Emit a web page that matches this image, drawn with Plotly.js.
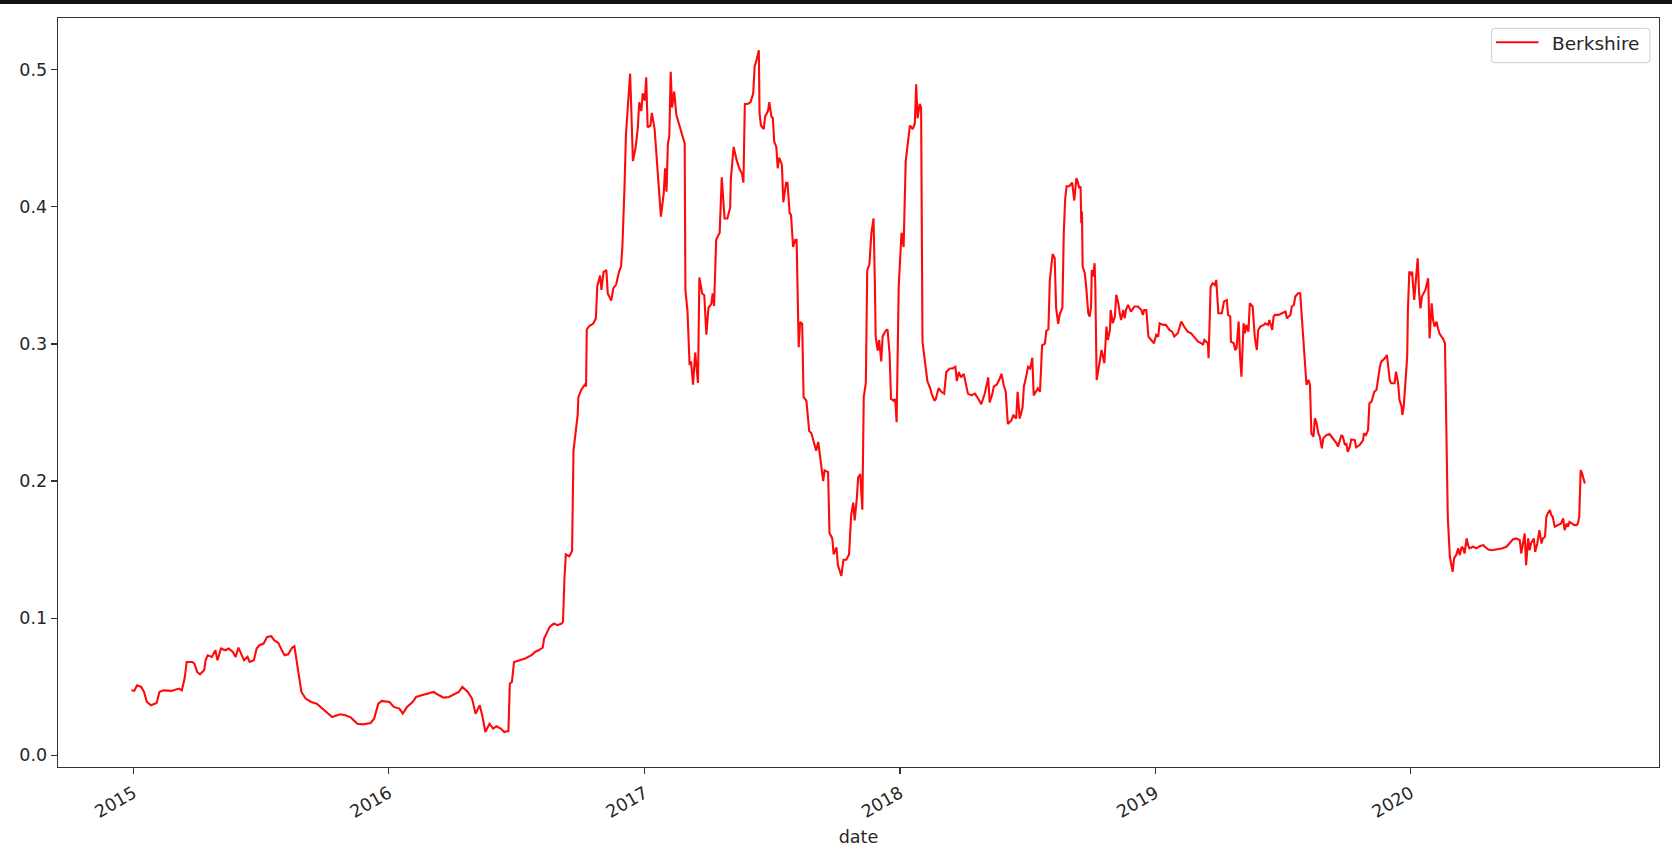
<!DOCTYPE html>
<html>
<head>
<meta charset="utf-8">
<script src="https://cdn.plot.ly/plotly-3.0.1.min.js"></script>
<style>
  html, body { margin: 0; padding: 0; background: #ffffff; }
  #topbar { position: absolute; left: 0; top: 0; width: 1672px; height: 4px; background: #111111; z-index: 10; }
  #chart { position: absolute; left: 0; top: 0; width: 1672px; height: 862px; }
</style>
</head>
<body>
<div id="topbar"></div>
<div id="chart"></div>
<script>
// ---- data ----
const seriesName = "Berkshire";
const dates = [
"2014-12-29","2015-01-02","2015-01-06","2015-01-12","2015-01-16","2015-01-20","2015-01-26","2015-02-03","2015-02-07","2015-02-13",
"2015-02-24","2015-03-07","2015-03-11","2015-03-15","2015-03-18","2015-03-26","2015-03-29","2015-04-02","2015-04-06","2015-04-12",
"2015-04-14","2015-04-17","2015-04-23","2015-04-28","2015-05-01","2015-05-06","2015-05-12","2015-05-17","2015-05-23","2015-05-27",
"2015-05-31","2015-06-04","2015-06-08","2015-06-13","2015-06-16","2015-06-22","2015-06-26","2015-06-30","2015-07-06","2015-07-11",
"2015-07-17","2015-07-21","2015-07-27","2015-08-01","2015-08-05","2015-08-10","2015-08-16","2015-08-19","2015-08-24","2015-08-27",
"2015-08-29","2015-09-04","2015-09-12","2015-09-20","2015-09-28","2015-10-07","2015-10-12","2015-10-23","2015-10-31","2015-11-08",
"2015-11-17","2015-11-25","2015-12-06","2015-12-11","2015-12-17","2015-12-22","2016-01-02","2016-01-08","2016-01-16","2016-01-21",
"2016-01-27","2016-02-04","2016-02-09","2016-02-17","2016-02-26","2016-03-05","2016-03-13","2016-03-19","2016-03-27","2016-04-04",
"2016-04-10","2016-04-15","2016-04-23","2016-04-29","2016-05-04","2016-05-10","2016-05-14","2016-05-18","2016-05-24","2016-05-29",
"2016-06-03","2016-06-09","2016-06-14","2016-06-20","2016-06-22","2016-06-25","2016-06-28","2016-07-06","2016-07-14","2016-07-23",
"2016-07-28","2016-08-02","2016-08-08","2016-08-10","2016-08-16","2016-08-18","2016-08-24","2016-08-29","2016-09-04","2016-09-06",
"2016-09-08","2016-09-10","2016-09-15","2016-09-19","2016-09-21","2016-09-25","2016-09-27","2016-09-28","2016-10-02","2016-10-07",
"2016-10-09","2016-10-10","2016-10-14","2016-10-19","2016-10-23","2016-10-25","2016-10-29","2016-10-31","2016-11-03","2016-11-07",
"2016-11-09","2016-11-14","2016-11-17","2016-11-21","2016-11-25","2016-11-28","2016-11-30","2016-12-03","2016-12-05","2016-12-11",
"2016-12-15","2016-12-19","2016-12-22","2016-12-24","2016-12-27","2016-12-29","2017-01-01","2017-01-03","2017-01-05","2017-01-09",
"2017-01-11","2017-01-15","2017-01-18","2017-01-22","2017-01-24","2017-01-28","2017-01-30","2017-02-01","2017-02-03","2017-02-05",
"2017-02-07","2017-02-09","2017-02-12","2017-02-15","2017-02-19","2017-02-23","2017-02-27","2017-02-28","2017-03-03","2017-03-06",
"2017-03-08","2017-03-11","2017-03-14","2017-03-18","2017-03-20","2017-03-24","2017-03-27","2017-03-30","2017-04-02","2017-04-06",
"2017-04-08","2017-04-10","2017-04-13","2017-04-18","2017-04-21","2017-04-25","2017-04-29","2017-05-03","2017-05-04","2017-05-08",
"2017-05-12","2017-05-16","2017-05-20","2017-05-22","2017-05-24","2017-05-28","2017-06-01","2017-06-05","2017-06-07","2017-06-10",
"2017-06-13","2017-06-14","2017-06-16","2017-06-20","2017-06-22","2017-06-26","2017-06-28","2017-07-01","2017-07-03","2017-07-05",
"2017-07-08","2017-07-10","2017-07-12","2017-07-15","2017-07-16","2017-07-18","2017-07-22","2017-07-24","2017-07-27","2017-07-29",
"2017-08-01","2017-08-04","2017-08-06","2017-08-09","2017-08-11","2017-08-14","2017-08-16","2017-08-20","2017-08-24","2017-08-27",
"2017-08-31","2017-09-03","2017-09-06","2017-09-09","2017-09-13","2017-09-15","2017-09-20","2017-09-22","2017-09-26","2017-09-28",
"2017-10-02","2017-10-04","2017-10-09","2017-10-12","2017-10-16","2017-10-20","2017-10-23","2017-10-26","2017-10-28","2017-10-31",
"2017-11-02","2017-11-05","2017-11-08","2017-11-10","2017-11-13","2017-11-15","2017-11-18","2017-11-21","2017-11-24","2017-11-26",
"2017-11-27","2017-11-30","2017-12-02","2017-12-05","2017-12-07","2017-12-11","2017-12-14","2017-12-17","2017-12-19","2017-12-23",
"2017-12-25","2017-12-27","2017-12-30","2018-01-03","2018-01-06","2018-01-09","2018-01-12","2018-01-15","2018-01-19","2018-01-22",
"2018-01-24","2018-01-26","2018-01-29","2018-01-31","2018-02-02","2018-02-06","2018-02-09","2018-02-13","2018-02-15","2018-02-19",
"2018-02-21","2018-02-25","2018-03-01","2018-03-05","2018-03-08","2018-03-13","2018-03-17","2018-03-21","2018-03-23","2018-03-26",
"2018-03-29","2018-04-02","2018-04-05","2018-04-08","2018-04-13","2018-04-18","2018-04-23","2018-04-27","2018-05-02","2018-05-07",
"2018-05-09","2018-05-13","2018-05-15","2018-05-19","2018-05-23","2018-05-26","2018-05-29","2018-06-01","2018-06-04","2018-06-09",
"2018-06-12","2018-06-16","2018-06-18","2018-06-21","2018-06-25","2018-06-27","2018-07-01","2018-07-03","2018-07-06","2018-07-09",
"2018-07-11","2018-07-14","2018-07-17","2018-07-20","2018-07-23","2018-07-27","2018-07-29","2018-08-01","2018-08-03","2018-08-07",
"2018-08-10","2018-08-12","2018-08-15","2018-08-17","2018-08-21","2018-08-23","2018-08-25","2018-08-27","2018-08-31","2018-09-04",
"2018-09-07","2018-09-10","2018-09-12","2018-09-14","2018-09-16","2018-09-17","2018-09-18","2018-09-19","2018-09-22","2018-09-24",
"2018-09-27","2018-09-29","2018-10-01","2018-10-02","2018-10-04","2018-10-06","2018-10-07","2018-10-09","2018-10-11","2018-10-13",
"2018-10-16","2018-10-18","2018-10-20","2018-10-23","2018-10-25","2018-10-28","2018-10-29","2018-11-01","2018-11-04","2018-11-06",
"2018-11-09","2018-11-11","2018-11-13","2018-11-16","2018-11-18","2018-11-20","2018-11-23","2018-11-27","2018-12-02","2018-12-07",
"2018-12-12","2018-12-14","2018-12-16","2018-12-19","2018-12-22","2018-12-26","2018-12-30","2019-01-02","2019-01-05","2019-01-07",
"2019-01-12","2019-01-16","2019-01-19","2019-01-21","2019-01-25","2019-01-28","2019-02-02","2019-02-07","2019-02-11","2019-02-16",
"2019-02-21","2019-02-25","2019-03-03","2019-03-08","2019-03-10","2019-03-12","2019-03-17","2019-03-18","2019-03-21","2019-03-24",
"2019-03-27","2019-03-29","2019-04-01","2019-04-06","2019-04-09","2019-04-13","2019-04-15","2019-04-18","2019-04-19","2019-04-23",
"2019-04-25","2019-04-27","2019-04-30","2019-05-02","2019-05-04","2019-05-07","2019-05-09","2019-05-11","2019-05-14","2019-05-16",
"2019-05-20","2019-05-23","2019-05-26","2019-05-28","2019-05-31","2019-06-05","2019-06-07","2019-06-11","2019-06-13","2019-06-17",
"2019-06-19","2019-06-21","2019-06-26","2019-07-01","2019-07-06","2019-07-08","2019-07-10","2019-07-13","2019-07-15","2019-07-18",
"2019-07-20","2019-07-24","2019-07-27","2019-07-30","2019-08-01","2019-08-03","2019-08-05","2019-08-08","2019-08-10","2019-08-12",
"2019-08-15","2019-08-17","2019-08-19","2019-08-22","2019-08-24","2019-08-27","2019-08-29","2019-08-31","2019-09-03","2019-09-07",
"2019-09-12","2019-09-17","2019-09-19","2019-09-22","2019-09-24","2019-09-26","2019-09-29","2019-10-01","2019-10-03","2019-10-06",
"2019-10-08","2019-10-13","2019-10-15","2019-10-20","2019-10-25","2019-10-26","2019-10-29","2019-11-01","2019-11-03","2019-11-06",
"2019-11-08","2019-11-10","2019-11-13","2019-11-15","2019-11-18","2019-11-20","2019-11-25","2019-11-28","2019-11-30","2019-12-02",
"2019-12-04","2019-12-07","2019-12-09","2019-12-11","2019-12-14","2019-12-16","2019-12-19","2019-12-20","2019-12-22","2019-12-25",
"2019-12-27","2019-12-28","2019-12-30","2020-01-02","2020-01-03","2020-01-06","2020-01-08","2020-01-11","2020-01-13","2020-01-15",
"2020-01-17","2020-01-20","2020-01-22","2020-01-26","2020-01-28","2020-01-31","2020-02-02","2020-02-04","2020-02-07","2020-02-09",
"2020-02-11","2020-02-14","2020-02-16","2020-02-19","2020-02-20","2020-02-22","2020-02-23","2020-02-26","2020-03-01","2020-03-03",
"2020-03-06","2020-03-09","2020-03-11","2020-03-14","2020-03-16","2020-03-18","2020-03-21","2020-03-23","2020-03-25","2020-03-30",
"2020-04-04","2020-04-09","2020-04-14","2020-04-16","2020-04-21","2020-04-26","2020-05-03","2020-05-10","2020-05-17","2020-05-21",
"2020-05-26","2020-05-31","2020-06-05","2020-06-07","2020-06-10","2020-06-12","2020-06-14","2020-06-17","2020-06-19","2020-06-21",
"2020-06-25","2020-06-27","2020-06-30","2020-07-03","2020-07-06","2020-07-08","2020-07-11","2020-07-13","2020-07-15","2020-07-18",
"2020-07-20","2020-07-22","2020-07-25","2020-07-30","2020-08-03","2020-08-06","2020-08-08","2020-08-11","2020-08-13","2020-08-15",
"2020-08-18","2020-08-22","2020-08-25","2020-08-27","2020-08-29","2020-08-31","2020-09-02","2020-09-04","2020-09-06"
];
const berkshire = [
0.0474,0.0470,0.0511,0.0499,0.0462,0.0389,0.0365,0.0382,0.0462,0.0474,
0.0470,0.0487,0.0474,0.0560,0.0681,0.0681,0.0669,0.0608,0.0591,0.0620,
0.0693,0.0730,0.0718,0.0766,0.0693,0.0779,0.0766,0.0779,0.0754,0.0718,
0.0786,0.0742,0.0693,0.0718,0.0681,0.0693,0.0779,0.0803,0.0815,0.0864,
0.0869,0.0840,0.0820,0.0766,0.0730,0.0737,0.0786,0.0796,0.0620,0.0499,
0.0462,0.0414,0.0389,0.0377,0.0341,0.0299,0.0280,0.0299,0.0292,0.0275,
0.0231,0.0226,0.0236,0.0268,0.0377,0.0397,0.0389,0.0353,0.0341,0.0304,
0.0353,0.0389,0.0426,0.0438,0.0450,0.0462,0.0438,0.0421,0.0426,0.0450,
0.0462,0.0499,0.0462,0.0414,0.0304,0.0365,0.0280,0.0170,0.0231,0.0195,
0.0212,0.0195,0.0170,0.0178,0.0523,0.0535,0.0681,0.0693,0.0706,0.0730,
0.0754,0.0766,0.0786,0.0852,0.0912,0.0937,0.0961,0.0949,0.0961,0.0973,
0.1277,0.1465,0.1452,0.1491,0.2221,0.2417,0.2482,0.2612,0.2664,0.2703,
0.2690,0.3107,0.3133,0.3147,0.3186,0.3420,0.3499,0.3394,0.3524,0.3538,
0.3368,0.3316,0.3407,0.3433,0.3524,0.3564,0.3720,0.4150,0.4528,0.4971,
0.4333,0.4437,0.4580,0.4763,0.4698,0.4828,0.4776,0.4945,0.4580,0.4593,
0.4685,0.4567,0.4333,0.4072,0.3929,0.4098,0.4281,0.4111,0.4463,0.4515,
0.4984,0.4724,0.4841,0.4672,0.4606,0.4528,0.4463,0.3394,0.3238,0.2847,
0.2873,0.2703,0.2938,0.2716,0.3485,0.3368,0.3355,0.3068,0.3264,0.3290,
0.3368,0.3277,0.3759,0.3811,0.4215,0.3915,0.3915,0.3994,0.4202,0.4437,
0.4346,0.4281,0.4241,0.4176,0.4750,0.4750,0.4763,0.4828,0.5023,0.5076,
0.5141,0.4685,0.4593,0.4567,0.4659,0.4698,0.4763,0.4659,0.4646,0.4476,
0.4437,0.4281,0.4359,0.4320,0.4307,0.4033,0.4176,0.4176,0.3955,0.3942,
0.3707,0.3759,0.3759,0.2977,0.3160,0.3147,0.2612,0.2586,0.2365,0.2351,
0.2273,0.2221,0.2286,0.2156,0.1999,0.2078,0.2065,0.1621,0.1582,0.1465,
0.1517,0.1387,0.1309,0.1426,0.1426,0.1465,0.1752,0.1843,0.1713,0.1869,
0.2026,0.2052,0.1791,0.2612,0.2716,0.3538,0.3577,0.3811,0.3915,0.3420,
0.3055,0.2951,0.3029,0.2873,0.3055,0.3094,0.3107,0.2925,0.2599,0.2586,
0.2599,0.2430,0.3420,0.3811,0.3707,0.4333,0.4476,0.4593,0.4567,0.4606,
0.4893,0.4646,0.4750,0.4724,0.3016,0.2873,0.2729,0.2677,0.2638,0.2586,
0.2599,0.2677,0.2651,0.2638,0.2795,0.2821,0.2821,0.2834,0.2729,0.2795,
0.2756,0.2782,0.2703,0.2638,0.2625,0.2638,0.2599,0.2560,0.2638,0.2756,
0.2573,0.2638,0.2690,0.2703,0.2742,0.2781,0.2703,0.2651,0.2417,0.2443,
0.2482,0.2456,0.2651,0.2456,0.2534,0.2690,0.2781,0.2834,0.2821,0.2899,
0.2625,0.2651,0.2677,0.2651,0.2990,0.3003,0.3094,0.3107,0.3459,0.3655,
0.3629,0.3264,0.3147,0.3212,0.3264,0.3811,0.4059,0.4150,0.4150,0.4176,
0.4046,0.4209,0.4185,0.4136,0.4148,0.3881,0.3966,0.3564,0.3516,0.3418,
0.3224,0.3200,0.3273,0.3540,0.3492,0.3589,0.3443,0.2737,0.2786,0.2859,
0.2956,0.2908,0.2859,0.3127,0.3029,0.3102,0.3248,0.3151,0.3200,0.3358,
0.3297,0.3224,0.3175,0.3248,0.3187,0.3248,0.3285,0.3236,0.3273,0.3273,
0.3248,0.3212,0.3248,0.3248,0.3054,0.3029,0.3005,0.3066,0.3054,0.3151,
0.3139,0.3139,0.3114,0.3102,0.3090,0.3054,0.3078,0.3163,0.3127,0.3090,
0.3078,0.3054,0.3017,0.3005,0.2993,0.3029,0.3005,0.2896,0.3418,0.3443,
0.3431,0.3467,0.3224,0.3224,0.3309,0.3321,0.3212,0.3200,0.3017,0.3005,
0.2956,0.2968,0.3163,0.2908,0.2762,0.3151,0.3078,0.3139,0.3090,0.3297,
0.3273,0.3054,0.2956,0.3102,0.3127,0.3139,0.3151,0.3139,0.3175,0.3102,
0.3200,0.3212,0.3212,0.3224,0.3236,0.3187,0.3200,0.3212,0.3273,0.3285,
0.3346,0.3370,0.3370,0.3127,0.2956,0.2786,0.2701,0.2737,0.2701,0.2348,
0.2324,0.2457,0.2433,0.2348,0.2324,0.2239,0.2311,0.2324,0.2336,0.2343,
0.2311,0.2275,0.2251,0.2311,0.2336,0.2324,0.2263,0.2275,0.2214,0.2251,
0.2304,0.2299,0.2246,0.2263,0.2299,0.2348,0.2336,0.2372,0.2567,0.2579,
0.2616,0.2652,0.2664,0.2737,0.2835,0.2871,0.2895,0.2920,0.2835,0.2737,
0.2713,0.2713,0.2713,0.2798,0.2713,0.2591,0.2543,0.2482,0.2543,0.2762,
0.2908,0.3248,0.3528,0.3504,0.3528,0.3321,0.3443,0.3625,0.3370,0.3260,
0.3346,0.3382,0.3394,0.3479,0.3041,0.3297,0.3175,0.3127,0.3163,0.3114,
0.3078,0.3054,0.3041,0.3005,0.2591,0.2129,0.1740,0.1448,0.1338,0.1436,
0.1460,0.1509,0.1460,0.1521,0.1509,0.1472,0.1582,0.1533,0.1509,0.1521,
0.1509,0.1526,0.1533,0.1521,0.1501,0.1496,0.1501,0.1509,0.1521,0.1545,
0.1574,0.1582,0.1569,0.1472,0.1545,0.1618,0.1387,0.1582,0.1496,0.1545,
0.1582,0.1484,0.1545,0.1642,0.1545,0.1582,0.1594,0.1740,0.1764,0.1788,
0.1752,0.1740,0.1667,0.1679,0.1691,0.1728,0.1642,0.1691,0.1667,0.1703,
0.1691,0.1679,0.1679,0.1691,0.1740,0.2080,0.2056,0.2019,0.1983
];
const yTickValues = [0.0, 0.1, 0.2, 0.3, 0.4, 0.5];
const yTickLabels = ["0.0", "0.1", "0.2", "0.3", "0.4", "0.5"];
const xTickValues = ["2015-01-01", "2016-01-01", "2017-01-01", "2018-01-01", "2019-01-01", "2020-01-01"];
const xTickLabels = ["2015", "2016", "2017", "2018", "2019", "2020"];
const xAxisTitle = "date";

// ---- chart ----
const W = 1672, H = 862;
const M = { l: 58, r: 13, t: 18, b: 95 };
const lineColor = "#ff0a0a";
const font = { family: "DejaVu Sans, Liberation Sans, sans-serif", size: 17.5, color: "#262626" };
const legendFont = { family: "DejaVu Sans, Liberation Sans, sans-serif", size: 18.5, color: "#262626" };
const axisCommon = {
  showgrid: false, zeroline: false,
  showline: true, linecolor: "#333333", linewidth: 1.3, mirror: true,
  ticks: "outside", ticklen: 6, tickwidth: 1.3, tickcolor: "#333333",
  tickfont: font
};

// pixel -> paper helpers (for the legend box only)
const pw = W - M.l - M.r, ph = H - M.t - M.b;
const PX = x => (x - M.l) / pw;
const PY = y => (H - M.b - y) / ph;
function roundRect(x0, y0, x1, y1, r) {
  const p = (x, y) => PX(x) + "," + PY(y);
  return "M" + p(x0 + r, y0) + " L" + p(x1 - r, y0) + " Q" + p(x1, y0) + " " + p(x1, y0 + r) +
         " L" + p(x1, y1 - r) + " Q" + p(x1, y1) + " " + p(x1 - r, y1) +
         " L" + p(x0 + r, y1) + " Q" + p(x0, y1) + " " + p(x0, y1 - r) +
         " L" + p(x0, y0 + r) + " Q" + p(x0, y0) + " " + p(x0 + r, y0) + " Z";
}
const legendBox = { x0: 1491.5, y0: 28.3, x1: 1650, y1: 62.7 };

const trace = {
  type: "scatter", mode: "lines", name: seriesName,
  x: dates, y: berkshire,
  line: { color: lineColor, width: 2.1 }
};

const layout = {
  width: W, height: H,
  paper_bgcolor: "#ffffff", plot_bgcolor: "#ffffff",
  margin: M,
  font: font,
  showlegend: false,
  xaxis: Object.assign({}, axisCommon, {
    type: "date",
    range: ["2014-09-15", "2020-12-21"],
    tickmode: "array", tickvals: xTickValues, ticktext: xTickLabels,
    tickangle: -30, ticklabelstandoff: 2,
    title: { text: xAxisTitle, font: font, standoff: 10 }
  }),
  yaxis: Object.assign({}, axisCommon, {
    range: [-0.0085, 0.5377],
    tickmode: "array", tickvals: yTickValues, ticktext: yTickLabels
  }),
  shapes: [
    { type: "path", xref: "paper", yref: "paper", layer: "above",
      path: roundRect(legendBox.x0, legendBox.y0, legendBox.x1, legendBox.y1, 4),
      fillcolor: "rgba(255,255,255,0.8)", line: { color: "#d6d6d6", width: 1.2 } },
    { type: "line", xref: "paper", yref: "paper", layer: "above",
      x0: PX(1496), x1: PX(1538.5), y0: PY(42.3), y1: PY(42.3),
      line: { color: lineColor, width: 2.1 } }
  ],
  annotations: [
    { xref: "paper", yref: "paper", x: PX(1549.5), y: PY(44), xanchor: "left", yanchor: "middle",
      text: seriesName, showarrow: false, font: legendFont }
  ]
};

Plotly.newPlot("chart", [trace], layout, { displayModeBar: false, staticPlot: true });
</script>
</body>
</html>
